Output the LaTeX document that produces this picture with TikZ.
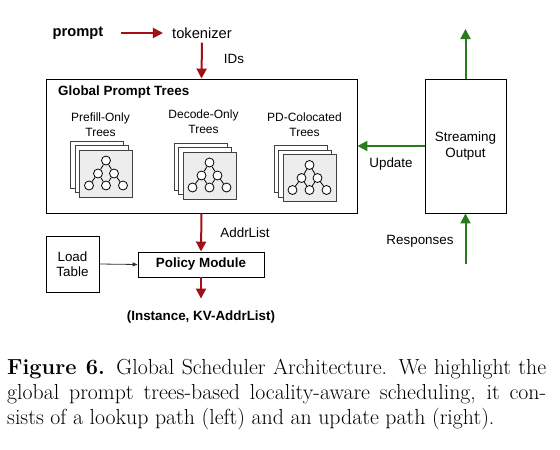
\documentclass[tikz,border=0pt]{standalone}
\usepackage{fontspec}
\setsansfont{Liberation Sans}
\usepackage{tikz}
\usetikzlibrary{arrows.meta, positioning}

\definecolor{lookupred}{RGB}{160,16,22}
\definecolor{updategreen}{RGB}{44,122,30}

\begin{document}
\begin{tikzpicture}[x=1pt, y=-1pt, node distance = 0cm,
        font=\sffamily\fontsize{13.4}{15.5}\selectfont,
        box/.style={rectangle, draw, line width=0.9pt, text centered, align=center, inner sep=2pt},
        tag/.style={inner sep=2pt, align=center},
        treetag/.style={inner sep=2pt, align=center, font=\sffamily\fontsize{12}{15}\selectfont},
        redline/.style={draw, line width=2pt, lookupred, -{Triangle[length=10pt, width=10pt]}},
        greenline/.style={draw, line width=2pt, updategreen, -{Triangle[length=10pt, width=10pt]}},
        thinline/.style={draw, line width=0.8pt, black!80, -{Triangle[length=5pt, width=4pt]}},
        sheet/.style={draw, line width=1pt, black!75},
        treenode/.style={circle, draw, line width=0.8pt, fill=white, minimum size=9pt, inner sep=0pt},
        treestack/.pic={
            \draw[sheet, fill=white] (-35.5,-32.5) rectangle ++(53,47);
            \draw[sheet, fill=white] (-31,-28) rectangle ++(53,47);
            \draw[sheet, fill=black!7] (-26.5,-23.5) rectangle ++(53,47);
            \node[treenode] (-top) at (0,-13) {};
            \node[treenode] (-ml) at (-8,0) {};
            \node[treenode] (-mr) at (8,0) {};
            \node[treenode] (-bl) at (-17,12) {};
            \node[treenode] (-bm) at (0,12) {};
            \node[treenode] (-br) at (17,12) {};
            \draw[line width=0.8pt] (-top) -- (-ml) (-top) -- (-mr)
                (-ml) -- (-bl) (-ml) -- (-bm) (-mr) -- (-bm) (-mr) -- (-br);
        }
    ]
        \useasboundingbox (0,0) rectangle (560,450);
        % Input
        \node[tag, font=\sffamily\bfseries\fontsize{14.7}{16}\selectfont] (prompt) at (78,33) {prompt};
        \node[tag, font=\sffamily\fontsize{14.7}{16}\selectfont] (tokenizer) at (202,33) {tokenizer};
        % Global prompt trees
        \node[box, minimum width=311pt, minimum height=134pt] (global) at (201.5,146) {};
        \node[tag, anchor=west, font=\sffamily\bfseries\fontsize{13.4}{15.5}\selectfont] (title) at (56,92) {Global Prompt Trees};
        \node[treetag] (prefill) at (100.5,124.5) {Prefill-Only\\Trees};
        \node[treetag] (decode) at (203.5,122) {Decode-Only\\Trees};
        \node[treetag] (colocated) at (304.5,124.5) {PD-Colocated\\Trees};
        \pic (prefilltree) at (106,173.5) {treestack};
        \pic (decodetree) at (209.5,175.5) {treestack};
        \pic (colocatedtree) at (309.5,178) {treestack};
        % Update path
        \node[box, minimum width=81pt, minimum height=134pt] (stream) at (465.5,146) {Streaming\\Output};
        \coordinate (streamout) at (465.5,29);
        \coordinate (responses) at (465.5,264);
        % Lookup path
        \node[box, minimum width=126pt, minimum height=25pt, font=\sffamily\bfseries\fontsize{13.4}{15.5}\selectfont] (policy) at (201,264.5) {Policy Module};
        \node[box, minimum width=53pt, minimum height=56pt] (load) at (72.5,264) {Load\\Table};
        \node[tag, font=\sffamily\bfseries\fontsize{13.4}{15.5}\selectfont] (result) at (201,317) {(Instance, KV-AddrList)};
        % Labels
        \node[tag] (ids) at (234,59) {IDs};
        \node[tag] (addrlist) at (245,233) {AddrList};
        \node[tag] (update) at (391,164) {Update};
        \node[tag] (responselabel) at (420,241) {Responses};
        % Connections
        \path[redline, shorten <=15pt, shorten >=7pt] (prompt.east) -- (tokenizer.west);
        \path[redline, shorten <=2pt] (tokenizer.south) -- (global.north);
        \path[redline] (global.south) -- (policy.north);
        \path[redline, shorten >=10pt] (policy.south) -- (result.north);
        \path[thinline] (load.east) -- (policy.west);
        \path[greenline] (stream.west) -- (global.east);
        \path[greenline] (stream.north) -- (streamout);
        \path[greenline] (responses) -- (stream.south);
        % Caption
        \node[anchor=north west, inner sep=0pt, align=left, font=\rmfamily\fontsize{21.8}{25}\selectfont] (caption) at (7,359)
            {\makebox[539pt][s]{\textbf{Figure 6.} Global Scheduler Architecture. We highlight the}\\
             \makebox[539pt][s]{global prompt trees-based locality-aware scheduling, it con-}\\
             sists of a lookup path (left) and an update path (right).};
\end{tikzpicture}
\end{document}
